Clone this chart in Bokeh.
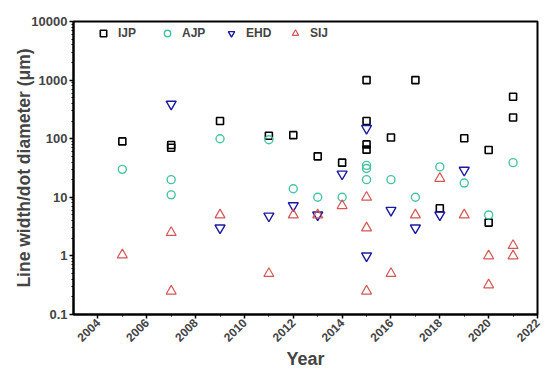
from bokeh.plotting import figure
from bokeh.models import (FixedTicker, CustomJSTickFormatter, Legend, LegendItem,
                          Range1d, Label)
from bokeh.embed import file_html
from bokeh.resources import INLINE
import math

# ---- data ----
ijp_year = [2005, 2007, 2007, 2009, 2011, 2012, 2013, 2014, 2015, 2015, 2015, 2015,
            2016, 2017, 2018, 2019, 2020, 2020, 2021, 2021]
ijp_val = [90, 78, 70, 200, 112, 115, 50, 39, 1000, 200, 80, 65,
           105, 1000, 6.5, 102, 64, 3.7, 520, 230]

ajp_year = [2005, 2007, 2007, 2009, 2011, 2012, 2013, 2014, 2015, 2015, 2015,
            2016, 2017, 2018, 2019, 2020, 2021]
ajp_val = [30, 20, 11, 100, 96, 14, 10, 10, 35, 31, 20,
           20, 10, 33, 17.5, 5, 39]

ehd_year = [2007, 2009, 2011, 2012, 2013, 2014, 2015, 2015, 2016, 2017, 2018, 2019]
ehd_val = [390, 3, 4.8, 7.2, 5, 25, 150, 1, 6, 3, 5, 29]

sij_year = [2005, 2007, 2007, 2009, 2011, 2012, 2013, 2014, 2015, 2015, 2015,
            2016, 2017, 2018, 2019, 2020, 2020, 2021, 2021]
sij_val = [1.04, 2.5, 0.25, 5, 0.5, 5, 5, 7.2, 10, 3, 0.25,
           0.5, 5, 21, 5, 1, 0.32, 1.5, 1]

x_ticks = list(range(2004, 2023, 2))
x_minor = list(range(2005, 2022, 2))
y_ticks = [0.1, 1, 10, 100, 1000, 10000]

FONT = "Liberation Sans"

p = figure(frame_width=464, frame_height=293, output_backend="svg", toolbar_location=None,
           y_axis_type="log",
           x_range=Range1d(2003, 2022), y_range=Range1d(0.1, 10000),
           min_border_left=73, min_border_right=8, min_border_top=21,
           min_border_bottom=60)

p.grid.visible = False
p.outline_line_color = "black"
p.outline_line_width = 2
p.background_fill_color = "white"
p.border_fill_color = "white"

# x axis
xa = p.xaxis[0]
xa.ticker = FixedTicker(ticks=x_ticks, minor_ticks=x_minor)
xa.major_label_orientation = math.pi / 4
xa.axis_label = "Year"
xa.axis_label_text_font = FONT
xa.axis_label_text_font_style = "bold"
xa.axis_label_text_font_size = "18px"
xa.axis_label_standoff = 0
xa.major_label_text_font = FONT
xa.major_label_text_font_style = "bold"
xa.major_label_text_font_size = "12px"
xa.major_label_standoff = 2
xa.axis_line_width = 2
xa.major_tick_line_width = 1.5
xa.major_tick_in = 0
xa.major_tick_out = 4
xa.minor_tick_in = 0
xa.minor_tick_out = 2

# y axis
minor_y = []
for d in [0.1, 1, 10, 100, 1000]:
    for k in range(2, 10):
        minor_y.append(d * k)
ya = p.yaxis[0]
ya.ticker = FixedTicker(ticks=y_ticks, minor_ticks=minor_y)
ya.formatter = CustomJSTickFormatter(code="""
    if (tick < 1) { return tick.toFixed(1); }
    return Math.round(tick).toString();
""")
ya.axis_label = "Line width/dot diameter (\u03bcm)"
ya.axis_label_text_font = FONT
ya.axis_label_text_font_style = "bold"
ya.axis_label_text_font_size = "17.5px"
ya.axis_label_standoff = -6
ya.major_label_text_font = FONT
ya.major_label_text_font_style = "bold"
ya.major_label_text_font_size = "13px"
ya.major_label_standoff = 2
ya.axis_line_width = 2
ya.major_tick_line_width = 1.5
ya.major_tick_in = 0
ya.major_tick_out = 4
ya.minor_tick_in = 0
ya.minor_tick_out = 2

c_ijp = "black"
c_ajp = "#45c4a2"
c_ehd = "#1a1aa0"
c_sij = "#d45757"

r1 = p.scatter(ijp_year, ijp_val, marker="square", size=7, fill_color=None,
               line_color=c_ijp, line_width=1.6)
r2 = p.scatter(ajp_year, ajp_val, marker="circle", size=8, fill_color=None,
               line_color=c_ajp, line_width=1.4)
r3 = p.scatter(ehd_year, ehd_val, marker="inverted_triangle", size=10, fill_color=None,
               line_color=c_ehd, line_width=1.4)
r4 = p.scatter(sij_year, sij_val, marker="triangle", size=10, fill_color=None,
               line_color=c_sij, line_width=1.2)

legend = Legend(items=[LegendItem(label="IJP", renderers=[r1]),
                       LegendItem(label="AJP", renderers=[r2]),
                       LegendItem(label="EHD", renderers=[r3]),
                       LegendItem(label="SIJ", renderers=[r4])],
                orientation="horizontal", location=(22, 273),
                glyph_width=16, glyph_height=16, label_standoff=7,
                label_width=31, spacing=10, padding=0, margin=0,
                border_line_color=None, background_fill_alpha=0,
                label_text_font=FONT, label_text_font_style="bold",
                label_text_font_size="12px")
p.add_layout(legend, "center")

wm = Label(x=381, y=-48, x_units="screen", y_units="screen", text="SCIENCEAQ.COM",
           text_font=FONT, text_font_size="10px", text_color="#eebcbc",
           text_baseline="middle")
p.add_layout(wm)

open("out.html", "w").write(file_html(p, INLINE))
